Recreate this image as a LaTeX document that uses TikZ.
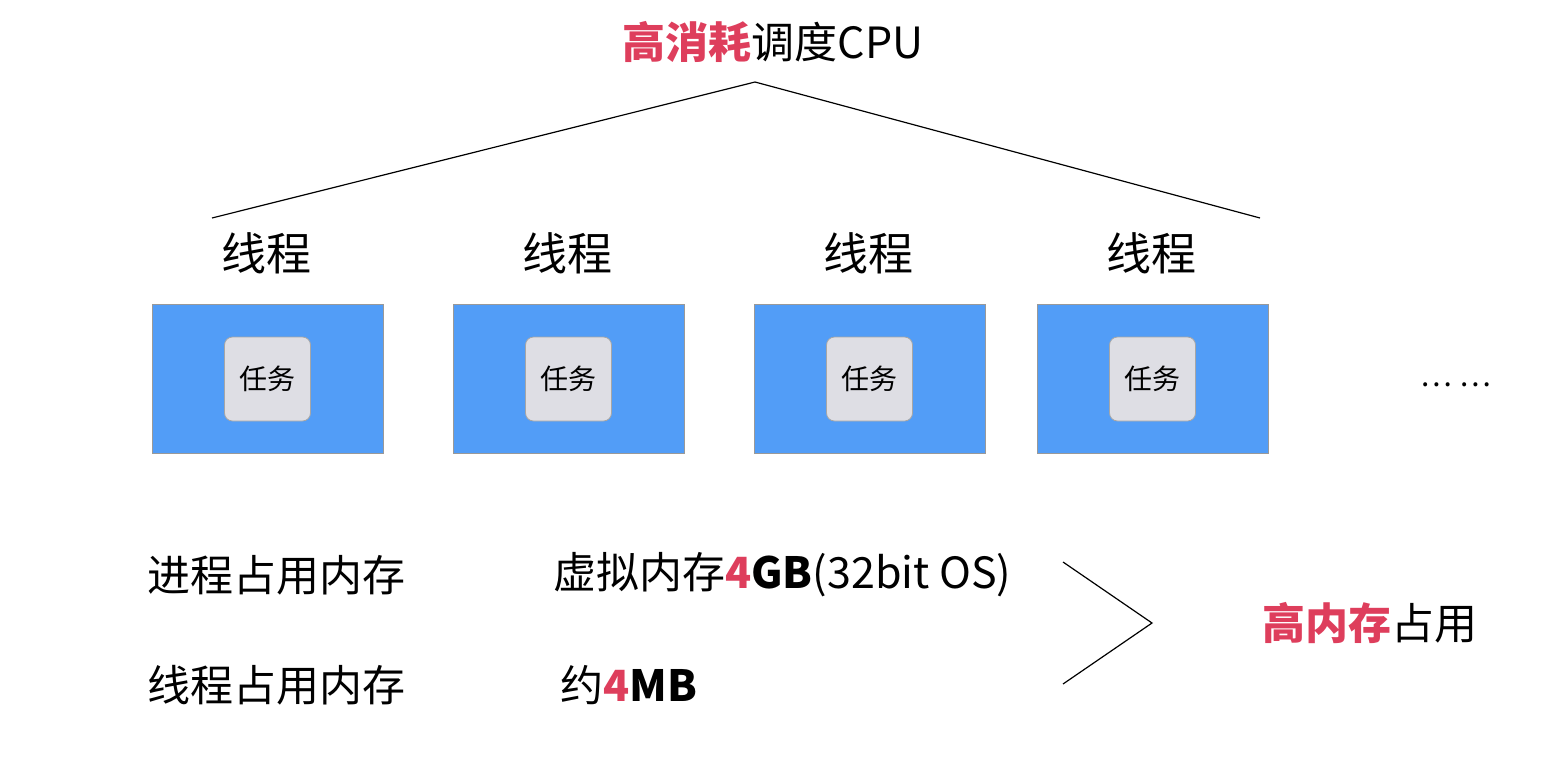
\documentclass[tikz,border=0pt]{standalone}
\usepackage{fontspec}
\setmainfont{Noto Sans CJK SC}
\definecolor{hired}{RGB}{222,62,92}
\definecolor{boxblue}{RGB}{82,157,247}
\definecolor{taskgray}{RGB}{222,222,228}
\begin{document}
\begin{tikzpicture}[x=1pt,y=-1pt,
  thr/.style={font=\fontsize{45}{50}\selectfont},
  blue box/.style={draw=gray!80,fill=boxblue,minimum width=231pt,minimum height=149pt,line width=0.8pt},
  task/.style={draw=gray!70,fill=taskgray,rounded corners=8pt,minimum width=86pt,minimum height=84pt,font=\fontsize{28}{32}\selectfont,line width=0.8pt},
  txt/.style={font=\fontsize{43}{48}\selectfont,anchor=west,inner sep=0}]
\useasboundingbox (0,0) rectangle (1568,763);
\node (title) at (773,42) {\fontsize{43}{48}\selectfont\textcolor{hired}{\bfseries 高消耗}调度CPU};
\coordinate (apex) at (755,82);
\coordinate (l) at (212,218);
\coordinate (r) at (1260,218);
\draw[line width=1.2pt] (l) -- (apex) -- (r);
\foreach \i/\x in {1/267.5,2/568.5,3/869.5,4/1152.5}{
  \node[thr] (t\i) at (\x-1,253) {线程};
  \node[blue box] (b\i) at (\x,378.5) {};
  \node[task] (k\i) at (\x,379) {任务};
}
\node (dots) at (1456,385) {\fontsize{30}{34}\selectfont …\hspace{8pt}…};
\node[txt] (p1) at (147,575) {进程占用内存};
\node[txt] (p2) at (553,575) {虚拟内存\textcolor{hired}{\bfseries 4}{\bfseries GB}(32bit OS)};
\node[txt] (q1) at (147,685) {线程占用内存};
\node[txt] (q2) at (560,685) {约\textcolor{hired}{\bfseries 4}{\bfseries MB}};
\coordinate (c1) at (1063,562);
\coordinate (c2) at (1152,623);
\coordinate (c3) at (1063,684);
\draw[line width=1.2pt] (c1) -- (c2) -- (c3);
\node[txt] (hm) at (1262,623) {\textcolor{hired}{\bfseries 高内存}占用};
\end{tikzpicture}
\end{document}
